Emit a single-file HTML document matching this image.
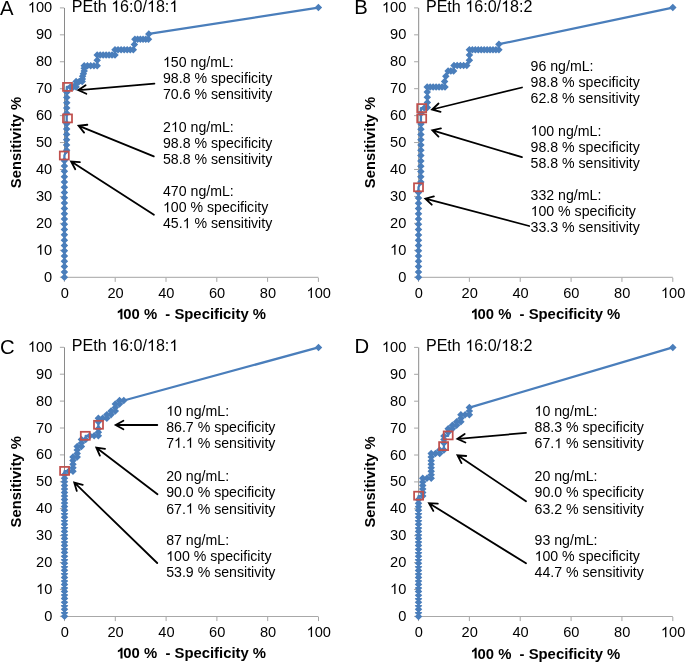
<!DOCTYPE html>
<html><head><meta charset="utf-8"><title>ROC curves</title>
<style>
html,body{margin:0;padding:0;background:#fff;}
body{width:685px;height:662px;overflow:hidden;font-family:"Liberation Sans",sans-serif;}
text{font-variant-ligatures:none;font-kerning:none;}
svg{display:block;will-change:transform;}
</style></head><body>
<svg width="685" height="662" viewBox="0 0 685 662">
<rect width="685" height="662" fill="#fff"/>
<defs><path id="oner" d="M763 0H583V1147Q518 1085 412.5 1023T223 930V1104Q374 1175 487 1276T647 1472H763V0Z"/><path id="oneb" d="M1025 0H744V1056Q590 912 381 843V1097Q491 1133 620 1233T797 1466H1025V0Z"/></defs>
<path d="M64.5 7.9V277.3" stroke="#8a8a8a" stroke-width="1" fill="none"/>
<path d="M59.9 277.2H64M59.9 250.27H64M59.9 223.34H64M59.9 196.41H64M59.9 169.48H64M59.9 142.55H64M59.9 115.62H64M59.9 88.69H64M59.9 61.76H64M59.9 34.83H64M59.9 7.9H64" stroke="#a6a6a6" stroke-width="1" fill="none"/>
<path d="M64.5 277.3H318.4" stroke="#a4a4a4" stroke-width="1" fill="none"/>
<path d="M64.4 277.8V281.9M115.2 277.8V281.9M166 277.8V281.9M216.8 277.8V281.9M267.6 277.8V281.9M318.4 277.8V281.9" stroke="#a6a6a6" stroke-width="1" fill="none"/>
<path d="M418.7 7.9V277.3" stroke="#8a8a8a" stroke-width="1" fill="none"/>
<path d="M414.1 277.2H418.2M414.1 250.27H418.2M414.1 223.34H418.2M414.1 196.41H418.2M414.1 169.48H418.2M414.1 142.55H418.2M414.1 115.62H418.2M414.1 88.69H418.2M414.1 61.76H418.2M414.1 34.83H418.2M414.1 7.9H418.2" stroke="#a6a6a6" stroke-width="1" fill="none"/>
<path d="M418.7 277.3H672.8" stroke="#a4a4a4" stroke-width="1" fill="none"/>
<path d="M418.5 277.8V281.9M469.36 277.8V281.9M520.22 277.8V281.9M571.08 277.8V281.9M621.94 277.8V281.9M672.8 277.8V281.9" stroke="#a6a6a6" stroke-width="1" fill="none"/>
<path d="M64.5 347.3V616.5" stroke="#8a8a8a" stroke-width="1" fill="none"/>
<path d="M59.9 616.3H64M59.9 589.4H64M59.9 562.5H64M59.9 535.6H64M59.9 508.7H64M59.9 481.8H64M59.9 454.9H64M59.9 428H64M59.9 401.1H64M59.9 374.2H64M59.9 347.3H64" stroke="#a6a6a6" stroke-width="1" fill="none"/>
<path d="M64.5 616.5H318.5" stroke="#a8a8a8" stroke-width="1" fill="none"/>
<path d="M64.5 617V621.1M115.3 617V621.1M166.1 617V621.1M216.9 617V621.1M267.7 617V621.1M318.5 617V621.1" stroke="#a6a6a6" stroke-width="1" fill="none"/>
<path d="M418.7 347.4V616.5" stroke="#8a8a8a" stroke-width="1" fill="none"/>
<path d="M414.1 616.4H418.2M414.1 589.5H418.2M414.1 562.6H418.2M414.1 535.7H418.2M414.1 508.8H418.2M414.1 481.9H418.2M414.1 455H418.2M414.1 428.1H418.2M414.1 401.2H418.2M414.1 374.3H418.2M414.1 347.4H418.2" stroke="#a6a6a6" stroke-width="1" fill="none"/>
<path d="M418.7 616.5H672.8" stroke="#a8a8a8" stroke-width="1" fill="none"/>
<path d="M418.5 617V621.1M469.36 617V621.1M520.22 617V621.1M571.08 617V621.1M621.94 617V621.1M672.8 617V621.1" stroke="#a6a6a6" stroke-width="1" fill="none"/>
<g font-family="Liberation Sans, sans-serif" fill="#000">
<text x="52.2" y="281.75" font-size="14.6" text-anchor="end">0</text>
<text x="52.2" y="254.82" font-size="14.6" text-anchor="end"> 0</text><use href="#oner" transform="translate(35.96 254.82) scale(0.00713 -0.00713)"/>
<text x="52.2" y="227.89" font-size="14.6" text-anchor="end">20</text>
<text x="52.2" y="200.96" font-size="14.6" text-anchor="end">30</text>
<text x="52.2" y="174.03" font-size="14.6" text-anchor="end">40</text>
<text x="52.2" y="147.1" font-size="14.6" text-anchor="end">50</text>
<text x="52.2" y="120.17" font-size="14.6" text-anchor="end">60</text>
<text x="52.2" y="93.24" font-size="14.6" text-anchor="end">70</text>
<text x="52.2" y="66.31" font-size="14.6" text-anchor="end">80</text>
<text x="52.2" y="39.38" font-size="14.6" text-anchor="end">90</text>
<text x="52.2" y="12.45" font-size="14.6" text-anchor="end"> 00</text><use href="#oner" transform="translate(27.84 12.45) scale(0.00713 -0.00713)"/>
<text x="64.7" y="298" font-size="14.6" text-anchor="middle">0</text>
<text x="115.5" y="298" font-size="14.6" text-anchor="middle">20</text>
<text x="166.3" y="298" font-size="14.6" text-anchor="middle">40</text>
<text x="217.1" y="298" font-size="14.6" text-anchor="middle">60</text>
<text x="267.9" y="298" font-size="14.6" text-anchor="middle">80</text>
<text x="318.7" y="298" font-size="14.6" text-anchor="middle"> 00</text><use href="#oner" transform="translate(306.52 298) scale(0.00713 -0.00713)"/>
<text x="190.5" y="319.3" font-size="14.85" text-anchor="middle" font-weight="bold" xml:space="preserve"> 00 %  - Specificity %</text><use href="#oneb" transform="translate(114.98 319.3) scale(0.00725 -0.00725)"/>
<text transform="translate(21 142.55) rotate(-90)" font-size="14.8" font-weight="bold" text-anchor="middle">Sensitivity %</text>
<text x="71.8" y="11.9" font-size="16.1">PEth  6:0/ 8: </text><use href="#oner" transform="translate(111.18 11.9) scale(0.00786 -0.00786)"/><use href="#oner" transform="translate(146.99 11.9) scale(0.00786 -0.00786)"/><use href="#oner" transform="translate(169.37 11.9) scale(0.00786 -0.00786)"/>
<text x="0" y="14.8" font-size="20.3">A</text>
<text x="163" y="67" font-size="14.15"> 50 ng/mL:</text><use href="#oner" transform="translate(163 67) scale(0.00691 -0.00691)"/>
<text x="163" y="82.95" font-size="14.15">98.8 % specificity</text>
<text x="163" y="98.9" font-size="14.15">70.6 % sensitivity</text>
<text x="163" y="131.8" font-size="14.15">2 0 ng/mL:</text><use href="#oner" transform="translate(170.87 131.8) scale(0.00691 -0.00691)"/>
<text x="163" y="147.75" font-size="14.15">98.8 % specificity</text>
<text x="163" y="163.7" font-size="14.15">58.8 % sensitivity</text>
<text x="163" y="196.2" font-size="14.15">470 ng/mL:</text>
<text x="163" y="212.2" font-size="14.15"> 00 % specificity</text><use href="#oner" transform="translate(163 212.2) scale(0.00691 -0.00691)"/>
<text x="163" y="228.2" font-size="14.15">45.  % sensitivity</text><use href="#oner" transform="translate(182.67 228.2) scale(0.00691 -0.00691)"/>
<text x="406.3" y="281.75" font-size="14.6" text-anchor="end">0</text>
<text x="406.3" y="254.82" font-size="14.6" text-anchor="end"> 0</text><use href="#oner" transform="translate(390.06 254.82) scale(0.00713 -0.00713)"/>
<text x="406.3" y="227.89" font-size="14.6" text-anchor="end">20</text>
<text x="406.3" y="200.96" font-size="14.6" text-anchor="end">30</text>
<text x="406.3" y="174.03" font-size="14.6" text-anchor="end">40</text>
<text x="406.3" y="147.1" font-size="14.6" text-anchor="end">50</text>
<text x="406.3" y="120.17" font-size="14.6" text-anchor="end">60</text>
<text x="406.3" y="93.24" font-size="14.6" text-anchor="end">70</text>
<text x="406.3" y="66.31" font-size="14.6" text-anchor="end">80</text>
<text x="406.3" y="39.38" font-size="14.6" text-anchor="end">90</text>
<text x="406.3" y="12.45" font-size="14.6" text-anchor="end"> 00</text><use href="#oner" transform="translate(381.94 12.45) scale(0.00713 -0.00713)"/>
<text x="418.8" y="298" font-size="14.6" text-anchor="middle">0</text>
<text x="469.66" y="298" font-size="14.6" text-anchor="middle">20</text>
<text x="520.52" y="298" font-size="14.6" text-anchor="middle">40</text>
<text x="571.38" y="298" font-size="14.6" text-anchor="middle">60</text>
<text x="622.24" y="298" font-size="14.6" text-anchor="middle">80</text>
<text x="673.1" y="298" font-size="14.6" text-anchor="middle"> 00</text><use href="#oner" transform="translate(660.92 298) scale(0.00713 -0.00713)"/>
<text x="544.75" y="319.3" font-size="14.85" text-anchor="middle" font-weight="bold" xml:space="preserve"> 00 %  - Specificity %</text><use href="#oneb" transform="translate(469.23 319.3) scale(0.00725 -0.00725)"/>
<text transform="translate(375.1 142.55) rotate(-90)" font-size="14.8" font-weight="bold" text-anchor="middle">Sensitivity %</text>
<text x="425.9" y="11.9" font-size="16.1">PEth  6:0/ 8:2</text><use href="#oner" transform="translate(465.28 11.9) scale(0.00786 -0.00786)"/><use href="#oner" transform="translate(501.09 11.9) scale(0.00786 -0.00786)"/>
<text x="354.3" y="14.4" font-size="20.3">B</text>
<text x="530.6" y="70.9" font-size="14.15">96 ng/mL:</text>
<text x="530.6" y="86.9" font-size="14.15">98.8 % specificity</text>
<text x="530.6" y="102.9" font-size="14.15">62.8 % sensitivity</text>
<text x="530.6" y="135.5" font-size="14.15"> 00 ng/mL:</text><use href="#oner" transform="translate(530.6 135.5) scale(0.00691 -0.00691)"/>
<text x="530.6" y="151.5" font-size="14.15">98.8 % specificity</text>
<text x="530.6" y="167.5" font-size="14.15">58.8 % sensitivity</text>
<text x="530.6" y="199.7" font-size="14.15">332 ng/mL:</text>
<text x="530.6" y="216.05" font-size="14.15"> 00 % specificity</text><use href="#oner" transform="translate(530.6 216.05) scale(0.00691 -0.00691)"/>
<text x="530.6" y="232.4" font-size="14.15">33.3 % sensitivity</text>
<text x="52.3" y="620.85" font-size="14.6" text-anchor="end">0</text>
<text x="52.3" y="593.95" font-size="14.6" text-anchor="end"> 0</text><use href="#oner" transform="translate(36.06 593.95) scale(0.00713 -0.00713)"/>
<text x="52.3" y="567.05" font-size="14.6" text-anchor="end">20</text>
<text x="52.3" y="540.15" font-size="14.6" text-anchor="end">30</text>
<text x="52.3" y="513.25" font-size="14.6" text-anchor="end">40</text>
<text x="52.3" y="486.35" font-size="14.6" text-anchor="end">50</text>
<text x="52.3" y="459.45" font-size="14.6" text-anchor="end">60</text>
<text x="52.3" y="432.55" font-size="14.6" text-anchor="end">70</text>
<text x="52.3" y="405.65" font-size="14.6" text-anchor="end">80</text>
<text x="52.3" y="378.75" font-size="14.6" text-anchor="end">90</text>
<text x="52.3" y="351.85" font-size="14.6" text-anchor="end"> 00</text><use href="#oner" transform="translate(27.94 351.85) scale(0.00713 -0.00713)"/>
<text x="64.8" y="637.1" font-size="14.6" text-anchor="middle">0</text>
<text x="115.6" y="637.1" font-size="14.6" text-anchor="middle">20</text>
<text x="166.4" y="637.1" font-size="14.6" text-anchor="middle">40</text>
<text x="217.2" y="637.1" font-size="14.6" text-anchor="middle">60</text>
<text x="268" y="637.1" font-size="14.6" text-anchor="middle">80</text>
<text x="318.8" y="637.1" font-size="14.6" text-anchor="middle"> 00</text><use href="#oner" transform="translate(306.62 637.1) scale(0.00713 -0.00713)"/>
<text x="190.6" y="658.4" font-size="14.85" text-anchor="middle" font-weight="bold" xml:space="preserve"> 00 %  - Specificity %</text><use href="#oneb" transform="translate(115.08 658.4) scale(0.00725 -0.00725)"/>
<text transform="translate(21 481.8) rotate(-90)" font-size="14.8" font-weight="bold" text-anchor="middle">Sensitivity %</text>
<text x="71.8" y="351" font-size="16.1">PEth  6:0/ 8: </text><use href="#oner" transform="translate(111.18 351) scale(0.00786 -0.00786)"/><use href="#oner" transform="translate(146.99 351) scale(0.00786 -0.00786)"/><use href="#oner" transform="translate(169.37 351) scale(0.00786 -0.00786)"/>
<text x="0.1" y="353.7" font-size="20.3">C</text>
<text x="166.2" y="415.8" font-size="14.15"> 0 ng/mL:</text><use href="#oner" transform="translate(166.2 415.8) scale(0.00691 -0.00691)"/>
<text x="166.2" y="431.75" font-size="14.15">86.7 % specificity</text>
<text x="166.2" y="447.7" font-size="14.15">7 .  % sensitivity</text><use href="#oner" transform="translate(174.07 447.7) scale(0.00691 -0.00691)"/><use href="#oner" transform="translate(185.87 447.7) scale(0.00691 -0.00691)"/>
<text x="166.2" y="480.9" font-size="14.15">20 ng/mL:</text>
<text x="166.2" y="497.2" font-size="14.15">90.0 % specificity</text>
<text x="166.2" y="513.5" font-size="14.15">67.  % sensitivity</text><use href="#oner" transform="translate(185.87 513.5) scale(0.00691 -0.00691)"/>
<text x="166.2" y="544.8" font-size="14.15">87 ng/mL:</text>
<text x="166.2" y="561.1" font-size="14.15"> 00 % specificity</text><use href="#oner" transform="translate(166.2 561.1) scale(0.00691 -0.00691)"/>
<text x="166.2" y="577.4" font-size="14.15">53.9 % sensitivity</text>
<text x="406.3" y="620.95" font-size="14.6" text-anchor="end">0</text>
<text x="406.3" y="594.05" font-size="14.6" text-anchor="end"> 0</text><use href="#oner" transform="translate(390.06 594.05) scale(0.00713 -0.00713)"/>
<text x="406.3" y="567.15" font-size="14.6" text-anchor="end">20</text>
<text x="406.3" y="540.25" font-size="14.6" text-anchor="end">30</text>
<text x="406.3" y="513.35" font-size="14.6" text-anchor="end">40</text>
<text x="406.3" y="486.45" font-size="14.6" text-anchor="end">50</text>
<text x="406.3" y="459.55" font-size="14.6" text-anchor="end">60</text>
<text x="406.3" y="432.65" font-size="14.6" text-anchor="end">70</text>
<text x="406.3" y="405.75" font-size="14.6" text-anchor="end">80</text>
<text x="406.3" y="378.85" font-size="14.6" text-anchor="end">90</text>
<text x="406.3" y="351.95" font-size="14.6" text-anchor="end"> 00</text><use href="#oner" transform="translate(381.94 351.95) scale(0.00713 -0.00713)"/>
<text x="418.8" y="637.2" font-size="14.6" text-anchor="middle">0</text>
<text x="469.66" y="637.2" font-size="14.6" text-anchor="middle">20</text>
<text x="520.52" y="637.2" font-size="14.6" text-anchor="middle">40</text>
<text x="571.38" y="637.2" font-size="14.6" text-anchor="middle">60</text>
<text x="622.24" y="637.2" font-size="14.6" text-anchor="middle">80</text>
<text x="673.1" y="637.2" font-size="14.6" text-anchor="middle"> 00</text><use href="#oner" transform="translate(660.92 637.2) scale(0.00713 -0.00713)"/>
<text x="544.75" y="658.5" font-size="14.85" text-anchor="middle" font-weight="bold" xml:space="preserve"> 00 %  - Specificity %</text><use href="#oneb" transform="translate(469.23 658.5) scale(0.00725 -0.00725)"/>
<text transform="translate(375.1 481.9) rotate(-90)" font-size="14.8" font-weight="bold" text-anchor="middle">Sensitivity %</text>
<text x="425.9" y="351.1" font-size="16.1">PEth  6:0/ 8:2</text><use href="#oner" transform="translate(465.28 351.1) scale(0.00786 -0.00786)"/><use href="#oner" transform="translate(501.09 351.1) scale(0.00786 -0.00786)"/>
<text x="354.4" y="353.1" font-size="20.3">D</text>
<text x="534.6" y="415.9" font-size="14.15"> 0 ng/mL:</text><use href="#oner" transform="translate(534.6 415.9) scale(0.00691 -0.00691)"/>
<text x="534.6" y="432.1" font-size="14.15">88.3 % specificity</text>
<text x="534.6" y="448.3" font-size="14.15">67.  % sensitivity</text><use href="#oner" transform="translate(554.27 448.3) scale(0.00691 -0.00691)"/>
<text x="534.6" y="480.9" font-size="14.15">20 ng/mL:</text>
<text x="534.6" y="497.25" font-size="14.15">90.0 % specificity</text>
<text x="534.6" y="513.6" font-size="14.15">63.2 % sensitivity</text>
<text x="534.6" y="544.8" font-size="14.15">93 ng/mL:</text>
<text x="534.6" y="561.1" font-size="14.15"> 00 % specificity</text><use href="#oner" transform="translate(534.6 561.1) scale(0.00691 -0.00691)"/>
<text x="534.6" y="577.4" font-size="14.15">44.7 % sensitivity</text>
</g>
<path d="M64.4 277.2L64.4 271.91L64.4 266.62L64.4 261.33L64.4 256.03L64.4 250.74L64.4 245.45L64.4 240.16L64.4 234.87L64.4 229.58L64.4 224.29L64.4 219L64.4 213.7L64.4 208.41L64.4 203.12L64.4 197.83L64.4 192.54L64.4 187.25L64.4 181.96L64.4 176.67L64.4 171.37L64.4 166.08L64.4 160.79L64.4 155.5L66.6 150.2L66.62 144.92L66.63 139.65L66.65 134.38L66.67 129.1L66.68 123.82L66.7 118.55L66.72 113.28L66.73 108L66.75 102.72L66.77 97.45L66.78 92.18L66.8 86.9L70.4 86.9L73.4 86.9L76.1 86.9L76.1 84.25L76.1 81.6L79.2 81.6L82.2 81.6L82.4 78.95L82.6 76.3L83.4 73.65L84.2 71L84.2 68.35L84.2 65.7L87.45 65.7L90.7 65.7L93.95 65.7L97.2 65.7L97.2 60.35L97.2 55L100.17 55L103.13 55L106.1 55L109.07 55L112.03 55L115 55L115 49.7L118.05 49.7L121.1 49.7L124.15 49.7L127.2 49.7L130.25 49.7L133.3 49.7L134.4 44.4L134.9 39.2L137.62 39.2L140.34 39.2L143.06 39.2L145.78 39.2L148.5 39.2L148.8 33.9L318.4 7.6" stroke="#4a7ebb" stroke-width="2.25" fill="none" stroke-linejoin="round"/>
<path d="M64.4 273.45L68.15 277.2L64.4 280.95L60.65 277.2ZM64.4 268.16L68.15 271.91L64.4 275.66L60.65 271.91ZM64.4 262.87L68.15 266.62L64.4 270.37L60.65 266.62ZM64.4 257.58L68.15 261.33L64.4 265.08L60.65 261.33ZM64.4 252.28L68.15 256.03L64.4 259.78L60.65 256.03ZM64.4 246.99L68.15 250.74L64.4 254.49L60.65 250.74ZM64.4 241.7L68.15 245.45L64.4 249.2L60.65 245.45ZM64.4 236.41L68.15 240.16L64.4 243.91L60.65 240.16ZM64.4 231.12L68.15 234.87L64.4 238.62L60.65 234.87ZM64.4 225.83L68.15 229.58L64.4 233.33L60.65 229.58ZM64.4 220.54L68.15 224.29L64.4 228.04L60.65 224.29ZM64.4 215.25L68.15 219L64.4 222.75L60.65 219ZM64.4 209.95L68.15 213.7L64.4 217.45L60.65 213.7ZM64.4 204.66L68.15 208.41L64.4 212.16L60.65 208.41ZM64.4 199.37L68.15 203.12L64.4 206.87L60.65 203.12ZM64.4 194.08L68.15 197.83L64.4 201.58L60.65 197.83ZM64.4 188.79L68.15 192.54L64.4 196.29L60.65 192.54ZM64.4 183.5L68.15 187.25L64.4 191L60.65 187.25ZM64.4 178.21L68.15 181.96L64.4 185.71L60.65 181.96ZM64.4 172.92L68.15 176.67L64.4 180.42L60.65 176.67ZM64.4 167.62L68.15 171.37L64.4 175.12L60.65 171.37ZM64.4 162.33L68.15 166.08L64.4 169.83L60.65 166.08ZM64.4 157.04L68.15 160.79L64.4 164.54L60.65 160.79ZM66.6 146.45L70.35 150.2L66.6 153.95L62.85 150.2ZM66.62 141.17L70.37 144.92L66.62 148.67L62.87 144.92ZM66.63 135.9L70.38 139.65L66.63 143.4L62.88 139.65ZM66.65 130.62L70.4 134.38L66.65 138.12L62.9 134.38ZM66.67 125.35L70.42 129.1L66.67 132.85L62.92 129.1ZM66.68 120.07L70.43 123.82L66.68 127.57L62.93 123.82ZM66.72 109.53L70.47 113.28L66.72 117.03L62.97 113.28ZM66.73 104.25L70.48 108L66.73 111.75L62.98 108ZM66.75 98.97L70.5 102.72L66.75 106.47L63 102.72ZM66.77 93.7L70.52 97.45L66.77 101.2L63.02 97.45ZM66.78 88.43L70.53 92.18L66.78 95.93L63.03 92.18ZM70.4 83.15L74.15 86.9L70.4 90.65L66.65 86.9ZM73.4 83.15L77.15 86.9L73.4 90.65L69.65 86.9ZM76.1 83.15L79.85 86.9L76.1 90.65L72.35 86.9ZM76.1 80.5L79.85 84.25L76.1 88L72.35 84.25ZM76.1 77.85L79.85 81.6L76.1 85.35L72.35 81.6ZM79.2 77.85L82.95 81.6L79.2 85.35L75.45 81.6ZM82.2 77.85L85.95 81.6L82.2 85.35L78.45 81.6ZM82.4 75.2L86.15 78.95L82.4 82.7L78.65 78.95ZM82.6 72.55L86.35 76.3L82.6 80.05L78.85 76.3ZM83.4 69.9L87.15 73.65L83.4 77.4L79.65 73.65ZM84.2 67.25L87.95 71L84.2 74.75L80.45 71ZM84.2 64.6L87.95 68.35L84.2 72.1L80.45 68.35ZM84.2 61.95L87.95 65.7L84.2 69.45L80.45 65.7ZM87.45 61.95L91.2 65.7L87.45 69.45L83.7 65.7ZM90.7 61.95L94.45 65.7L90.7 69.45L86.95 65.7ZM93.95 61.95L97.7 65.7L93.95 69.45L90.2 65.7ZM97.2 61.95L100.95 65.7L97.2 69.45L93.45 65.7ZM97.2 56.6L100.95 60.35L97.2 64.1L93.45 60.35ZM97.2 51.25L100.95 55L97.2 58.75L93.45 55ZM100.17 51.25L103.92 55L100.17 58.75L96.42 55ZM103.13 51.25L106.88 55L103.13 58.75L99.38 55ZM106.1 51.25L109.85 55L106.1 58.75L102.35 55ZM109.07 51.25L112.82 55L109.07 58.75L105.32 55ZM112.03 51.25L115.78 55L112.03 58.75L108.28 55ZM115 51.25L118.75 55L115 58.75L111.25 55ZM115 45.95L118.75 49.7L115 53.45L111.25 49.7ZM118.05 45.95L121.8 49.7L118.05 53.45L114.3 49.7ZM121.1 45.95L124.85 49.7L121.1 53.45L117.35 49.7ZM124.15 45.95L127.9 49.7L124.15 53.45L120.4 49.7ZM127.2 45.95L130.95 49.7L127.2 53.45L123.45 49.7ZM130.25 45.95L134 49.7L130.25 53.45L126.5 49.7ZM133.3 45.95L137.05 49.7L133.3 53.45L129.55 49.7ZM134.4 40.65L138.15 44.4L134.4 48.15L130.65 44.4ZM134.9 35.45L138.65 39.2L134.9 42.95L131.15 39.2ZM137.62 35.45L141.37 39.2L137.62 42.95L133.87 39.2ZM140.34 35.45L144.09 39.2L140.34 42.95L136.59 39.2ZM143.06 35.45L146.81 39.2L143.06 42.95L139.31 39.2ZM145.78 35.45L149.53 39.2L145.78 42.95L142.03 39.2ZM148.5 35.45L152.25 39.2L148.5 42.95L144.75 39.2ZM148.8 30.15L152.55 33.9L148.8 37.65L145.05 33.9ZM318.4 3.85L322.15 7.6L318.4 11.35L314.65 7.6Z" fill="#4a7ebb"/>
<path d="M418.5 277.2L418.5 271.91L418.5 266.62L418.5 261.34L418.5 256.05L418.5 250.76L418.5 245.47L418.5 240.18L418.5 234.89L418.5 229.61L418.5 224.32L418.5 219.03L418.5 213.74L418.5 208.45L418.5 203.16L418.5 197.88L418.5 192.59L418.5 187.3L420.8 182L420.81 176.72L420.83 171.44L420.84 166.16L420.86 160.89L420.87 155.61L420.89 150.33L420.9 145.05L420.91 139.77L420.93 134.49L420.94 129.21L420.96 123.94L420.97 118.66L420.99 113.38L421 108.1L424.3 108.1L427.4 107.6L427.35 102.42L427.3 97.25L427.25 92.08L427.2 86.9L430.17 86.9L433.13 86.9L436.1 86.9L439.07 86.9L442.03 86.9L445 86.9L444.6 81.6L445.8 76.3L448.1 71.1L450.85 71.1L453.6 71.1L454 65.6L457.2 65.6L460.4 65.6L463.6 65.6L466.8 65.6L469.4 60.3L469.4 55L469.4 49.7L472.35 49.7L475.3 49.7L478.25 49.7L481.2 49.7L484.15 49.7L487.1 49.7L490.05 49.7L493 49.7L495.95 49.7L498.9 49.7L498.9 44.2L672.8 7.6" stroke="#4a7ebb" stroke-width="2.25" fill="none" stroke-linejoin="round"/>
<path d="M418.5 273.45L422.25 277.2L418.5 280.95L414.75 277.2ZM418.5 268.16L422.25 271.91L418.5 275.66L414.75 271.91ZM418.5 262.87L422.25 266.62L418.5 270.37L414.75 266.62ZM418.5 257.59L422.25 261.34L418.5 265.09L414.75 261.34ZM418.5 252.3L422.25 256.05L418.5 259.8L414.75 256.05ZM418.5 247.01L422.25 250.76L418.5 254.51L414.75 250.76ZM418.5 241.72L422.25 245.47L418.5 249.22L414.75 245.47ZM418.5 236.43L422.25 240.18L418.5 243.93L414.75 240.18ZM418.5 231.14L422.25 234.89L418.5 238.64L414.75 234.89ZM418.5 225.86L422.25 229.61L418.5 233.36L414.75 229.61ZM418.5 220.57L422.25 224.32L418.5 228.07L414.75 224.32ZM418.5 215.28L422.25 219.03L418.5 222.78L414.75 219.03ZM418.5 209.99L422.25 213.74L418.5 217.49L414.75 213.74ZM418.5 204.7L422.25 208.45L418.5 212.2L414.75 208.45ZM418.5 199.41L422.25 203.16L418.5 206.91L414.75 203.16ZM418.5 194.13L422.25 197.88L418.5 201.63L414.75 197.88ZM418.5 188.84L422.25 192.59L418.5 196.34L414.75 192.59ZM420.8 178.25L424.55 182L420.8 185.75L417.05 182ZM420.81 172.97L424.56 176.72L420.81 180.47L417.06 176.72ZM420.83 167.69L424.58 171.44L420.83 175.19L417.08 171.44ZM420.84 162.41L424.59 166.16L420.84 169.91L417.09 166.16ZM420.86 157.14L424.61 160.89L420.86 164.64L417.11 160.89ZM420.87 151.86L424.62 155.61L420.87 159.36L417.12 155.61ZM420.89 146.58L424.64 150.33L420.89 154.08L417.14 150.33ZM420.9 141.3L424.65 145.05L420.9 148.8L417.15 145.05ZM420.91 136.02L424.66 139.77L420.91 143.52L417.16 139.77ZM420.93 130.74L424.68 134.49L420.93 138.24L417.18 134.49ZM420.94 125.46L424.69 129.21L420.94 132.96L417.19 129.21ZM420.96 120.19L424.71 123.94L420.96 127.69L417.21 123.94ZM420.99 109.63L424.74 113.38L420.99 117.13L417.24 113.38ZM424.3 104.35L428.05 108.1L424.3 111.85L420.55 108.1ZM427.4 103.85L431.15 107.6L427.4 111.35L423.65 107.6ZM427.35 98.67L431.1 102.42L427.35 106.17L423.6 102.42ZM427.3 93.5L431.05 97.25L427.3 101L423.55 97.25ZM427.25 88.33L431 92.08L427.25 95.83L423.5 92.08ZM427.2 83.15L430.95 86.9L427.2 90.65L423.45 86.9ZM430.17 83.15L433.92 86.9L430.17 90.65L426.42 86.9ZM433.13 83.15L436.88 86.9L433.13 90.65L429.38 86.9ZM436.1 83.15L439.85 86.9L436.1 90.65L432.35 86.9ZM439.07 83.15L442.82 86.9L439.07 90.65L435.32 86.9ZM442.03 83.15L445.78 86.9L442.03 90.65L438.28 86.9ZM445 83.15L448.75 86.9L445 90.65L441.25 86.9ZM444.6 77.85L448.35 81.6L444.6 85.35L440.85 81.6ZM445.8 72.55L449.55 76.3L445.8 80.05L442.05 76.3ZM448.1 67.35L451.85 71.1L448.1 74.85L444.35 71.1ZM450.85 67.35L454.6 71.1L450.85 74.85L447.1 71.1ZM453.6 67.35L457.35 71.1L453.6 74.85L449.85 71.1ZM454 61.85L457.75 65.6L454 69.35L450.25 65.6ZM457.2 61.85L460.95 65.6L457.2 69.35L453.45 65.6ZM460.4 61.85L464.15 65.6L460.4 69.35L456.65 65.6ZM463.6 61.85L467.35 65.6L463.6 69.35L459.85 65.6ZM466.8 61.85L470.55 65.6L466.8 69.35L463.05 65.6ZM469.4 56.55L473.15 60.3L469.4 64.05L465.65 60.3ZM469.4 51.25L473.15 55L469.4 58.75L465.65 55ZM469.4 45.95L473.15 49.7L469.4 53.45L465.65 49.7ZM472.35 45.95L476.1 49.7L472.35 53.45L468.6 49.7ZM475.3 45.95L479.05 49.7L475.3 53.45L471.55 49.7ZM478.25 45.95L482 49.7L478.25 53.45L474.5 49.7ZM481.2 45.95L484.95 49.7L481.2 53.45L477.45 49.7ZM484.15 45.95L487.9 49.7L484.15 53.45L480.4 49.7ZM487.1 45.95L490.85 49.7L487.1 53.45L483.35 49.7ZM490.05 45.95L493.8 49.7L490.05 53.45L486.3 49.7ZM493 45.95L496.75 49.7L493 53.45L489.25 49.7ZM495.95 45.95L499.7 49.7L495.95 53.45L492.2 49.7ZM498.9 45.95L502.65 49.7L498.9 53.45L495.15 49.7ZM498.9 40.45L502.65 44.2L498.9 47.95L495.15 44.2ZM672.8 3.85L676.55 7.6L672.8 11.35L669.05 7.6Z" fill="#4a7ebb"/>
<path d="M64.5 616.3L64.5 612.76L64.5 609.22L64.5 605.69L64.5 602.15L64.5 598.61L64.5 595.07L64.5 591.53L64.5 587.99L64.5 584.46L64.5 580.92L64.5 577.38L64.5 573.84L64.5 570.3L64.5 566.77L64.5 563.23L64.5 559.69L64.5 556.15L64.5 552.61L64.5 549.07L64.5 545.54L64.5 542L64.5 538.46L64.5 534.92L64.5 531.38L64.5 527.85L64.5 524.31L64.5 520.77L64.5 517.23L64.5 513.69L64.5 510.16L64.5 506.62L64.5 503.08L64.5 499.54L64.5 496L64.5 492.46L64.5 488.93L64.5 485.39L64.5 481.85L64.5 478.31L64.5 474.77L64.5 471.24L68.73 471.24L72.97 471.24L72.97 467.7L72.97 464.16L72.97 460.62L72.97 457.08L77.2 457.08L77.2 453.54L77.2 450.01L77.2 446.47L81.43 446.47L81.43 442.93L81.43 439.39L85.67 439.39L85.67 435.85L89.9 435.85L94.13 435.85L98.37 435.85L98.37 432.32L98.37 428.78L98.37 425.24L98.37 421.7L98.37 418.16L102.6 418.16L106.83 418.16L106.83 414.62L111.07 414.62L111.07 411.09L115.3 411.09L115.3 407.55L115.3 404.01L119.53 404.01L119.53 400.47L123.77 400.47L318.5 347.4" stroke="#4a7ebb" stroke-width="2.25" fill="none" stroke-linejoin="round"/>
<path d="M64.5 612.55L68.25 616.3L64.5 620.05L60.75 616.3ZM64.5 609.01L68.25 612.76L64.5 616.51L60.75 612.76ZM64.5 605.47L68.25 609.22L64.5 612.97L60.75 609.22ZM64.5 601.94L68.25 605.69L64.5 609.44L60.75 605.69ZM64.5 598.4L68.25 602.15L64.5 605.9L60.75 602.15ZM64.5 594.86L68.25 598.61L64.5 602.36L60.75 598.61ZM64.5 591.32L68.25 595.07L64.5 598.82L60.75 595.07ZM64.5 587.78L68.25 591.53L64.5 595.28L60.75 591.53ZM64.5 584.24L68.25 587.99L64.5 591.74L60.75 587.99ZM64.5 580.71L68.25 584.46L64.5 588.21L60.75 584.46ZM64.5 577.17L68.25 580.92L64.5 584.67L60.75 580.92ZM64.5 573.63L68.25 577.38L64.5 581.13L60.75 577.38ZM64.5 570.09L68.25 573.84L64.5 577.59L60.75 573.84ZM64.5 566.55L68.25 570.3L64.5 574.05L60.75 570.3ZM64.5 563.02L68.25 566.77L64.5 570.52L60.75 566.77ZM64.5 559.48L68.25 563.23L64.5 566.98L60.75 563.23ZM64.5 555.94L68.25 559.69L64.5 563.44L60.75 559.69ZM64.5 552.4L68.25 556.15L64.5 559.9L60.75 556.15ZM64.5 548.86L68.25 552.61L64.5 556.36L60.75 552.61ZM64.5 545.32L68.25 549.07L64.5 552.82L60.75 549.07ZM64.5 541.79L68.25 545.54L64.5 549.29L60.75 545.54ZM64.5 538.25L68.25 542L64.5 545.75L60.75 542ZM64.5 534.71L68.25 538.46L64.5 542.21L60.75 538.46ZM64.5 531.17L68.25 534.92L64.5 538.67L60.75 534.92ZM64.5 527.63L68.25 531.38L64.5 535.13L60.75 531.38ZM64.5 524.1L68.25 527.85L64.5 531.6L60.75 527.85ZM64.5 520.56L68.25 524.31L64.5 528.06L60.75 524.31ZM64.5 517.02L68.25 520.77L64.5 524.52L60.75 520.77ZM64.5 513.48L68.25 517.23L64.5 520.98L60.75 517.23ZM64.5 509.94L68.25 513.69L64.5 517.44L60.75 513.69ZM64.5 506.41L68.25 510.16L64.5 513.91L60.75 510.16ZM64.5 502.87L68.25 506.62L64.5 510.37L60.75 506.62ZM64.5 499.33L68.25 503.08L64.5 506.83L60.75 503.08ZM64.5 495.79L68.25 499.54L64.5 503.29L60.75 499.54ZM64.5 492.25L68.25 496L64.5 499.75L60.75 496ZM64.5 488.71L68.25 492.46L64.5 496.21L60.75 492.46ZM64.5 485.18L68.25 488.93L64.5 492.68L60.75 488.93ZM64.5 481.64L68.25 485.39L64.5 489.14L60.75 485.39ZM64.5 478.1L68.25 481.85L64.5 485.6L60.75 481.85ZM64.5 474.56L68.25 478.31L64.5 482.06L60.75 478.31ZM64.5 471.02L68.25 474.77L64.5 478.52L60.75 474.77ZM68.73 467.49L72.48 471.24L68.73 474.99L64.98 471.24ZM72.97 467.49L76.72 471.24L72.97 474.99L69.22 471.24ZM72.97 463.95L76.72 467.7L72.97 471.45L69.22 467.7ZM72.97 460.41L76.72 464.16L72.97 467.91L69.22 464.16ZM72.97 456.87L76.72 460.62L72.97 464.37L69.22 460.62ZM72.97 453.33L76.72 457.08L72.97 460.83L69.22 457.08ZM77.2 453.33L80.95 457.08L77.2 460.83L73.45 457.08ZM77.2 449.79L80.95 453.54L77.2 457.29L73.45 453.54ZM77.2 446.26L80.95 450.01L77.2 453.76L73.45 450.01ZM77.2 442.72L80.95 446.47L77.2 450.22L73.45 446.47ZM81.43 442.72L85.18 446.47L81.43 450.22L77.68 446.47ZM81.43 439.18L85.18 442.93L81.43 446.68L77.68 442.93ZM81.43 435.64L85.18 439.39L81.43 443.14L77.68 439.39ZM85.67 435.64L89.42 439.39L85.67 443.14L81.92 439.39ZM89.9 432.1L93.65 435.85L89.9 439.6L86.15 435.85ZM94.13 432.1L97.88 435.85L94.13 439.6L90.38 435.85ZM98.37 432.1L102.12 435.85L98.37 439.6L94.62 435.85ZM98.37 428.57L102.12 432.32L98.37 436.07L94.62 432.32ZM98.37 425.03L102.12 428.78L98.37 432.53L94.62 428.78ZM98.37 417.95L102.12 421.7L98.37 425.45L94.62 421.7ZM98.37 414.41L102.12 418.16L98.37 421.91L94.62 418.16ZM102.6 414.41L106.35 418.16L102.6 421.91L98.85 418.16ZM106.83 414.41L110.58 418.16L106.83 421.91L103.08 418.16ZM106.83 410.88L110.58 414.62L106.83 418.38L103.08 414.62ZM111.07 410.88L114.82 414.62L111.07 418.38L107.32 414.62ZM111.07 407.34L114.82 411.09L111.07 414.84L107.32 411.09ZM115.3 407.34L119.05 411.09L115.3 414.84L111.55 411.09ZM115.3 403.8L119.05 407.55L115.3 411.3L111.55 407.55ZM115.3 400.26L119.05 404.01L115.3 407.76L111.55 404.01ZM119.53 400.26L123.28 404.01L119.53 407.76L115.78 404.01ZM119.53 396.72L123.28 400.47L119.53 404.22L115.78 400.47ZM123.77 396.72L127.52 400.47L123.77 404.22L120.02 400.47ZM318.5 343.65L322.25 347.4L318.5 351.15L314.75 347.4Z" fill="#4a7ebb"/>
<path d="M418.5 616.4L418.5 612.86L418.5 609.32L418.5 605.78L418.5 602.24L418.5 598.7L418.5 595.16L418.5 591.62L418.5 588.08L418.5 584.54L418.5 581.01L418.5 577.47L418.5 573.93L418.5 570.39L418.5 566.85L418.5 563.31L418.5 559.77L418.5 556.23L418.5 552.69L418.5 549.15L418.5 545.61L418.5 542.07L418.5 538.53L418.5 534.99L418.5 531.45L418.5 527.91L418.5 524.37L418.5 520.83L418.5 517.29L418.5 513.76L418.5 510.22L418.5 506.68L418.5 503.14L418.5 499.6L418.5 496.06L422.74 496.06L422.74 492.52L422.74 488.98L422.74 485.44L422.74 481.9L422.74 478.36L426.98 478.36L431.21 478.36L431.21 474.82L431.21 471.28L431.21 467.74L431.21 464.2L431.21 460.66L431.21 457.12L431.21 453.58L435.45 453.58L439.69 453.58L439.69 450.04L443.93 450.04L443.93 446.51L443.93 442.97L443.93 439.43L443.93 435.89L448.17 435.89L448.17 432.35L448.17 428.81L452.41 428.81L452.41 425.27L456.64 425.27L456.64 421.73L460.88 421.73L460.88 418.19L460.88 414.65L465.12 414.65L469.36 414.65L469.36 411.11L469.36 407.57L672.8 347.4" stroke="#4a7ebb" stroke-width="2.25" fill="none" stroke-linejoin="round"/>
<path d="M418.5 612.65L422.25 616.4L418.5 620.15L414.75 616.4ZM418.5 609.11L422.25 612.86L418.5 616.61L414.75 612.86ZM418.5 605.57L422.25 609.32L418.5 613.07L414.75 609.32ZM418.5 602.03L422.25 605.78L418.5 609.53L414.75 605.78ZM418.5 598.49L422.25 602.24L418.5 605.99L414.75 602.24ZM418.5 594.95L422.25 598.7L418.5 602.45L414.75 598.7ZM418.5 591.41L422.25 595.16L418.5 598.91L414.75 595.16ZM418.5 587.87L422.25 591.62L418.5 595.37L414.75 591.62ZM418.5 584.33L422.25 588.08L418.5 591.83L414.75 588.08ZM418.5 580.79L422.25 584.54L418.5 588.29L414.75 584.54ZM418.5 577.26L422.25 581.01L418.5 584.76L414.75 581.01ZM418.5 573.72L422.25 577.47L418.5 581.22L414.75 577.47ZM418.5 570.18L422.25 573.93L418.5 577.68L414.75 573.93ZM418.5 566.64L422.25 570.39L418.5 574.14L414.75 570.39ZM418.5 563.1L422.25 566.85L418.5 570.6L414.75 566.85ZM418.5 559.56L422.25 563.31L418.5 567.06L414.75 563.31ZM418.5 556.02L422.25 559.77L418.5 563.52L414.75 559.77ZM418.5 552.48L422.25 556.23L418.5 559.98L414.75 556.23ZM418.5 548.94L422.25 552.69L418.5 556.44L414.75 552.69ZM418.5 545.4L422.25 549.15L418.5 552.9L414.75 549.15ZM418.5 541.86L422.25 545.61L418.5 549.36L414.75 545.61ZM418.5 538.32L422.25 542.07L418.5 545.82L414.75 542.07ZM418.5 534.78L422.25 538.53L418.5 542.28L414.75 538.53ZM418.5 531.24L422.25 534.99L418.5 538.74L414.75 534.99ZM418.5 527.7L422.25 531.45L418.5 535.2L414.75 531.45ZM418.5 524.16L422.25 527.91L418.5 531.66L414.75 527.91ZM418.5 520.62L422.25 524.37L418.5 528.12L414.75 524.37ZM418.5 517.08L422.25 520.83L418.5 524.58L414.75 520.83ZM418.5 513.54L422.25 517.29L418.5 521.04L414.75 517.29ZM418.5 510.01L422.25 513.76L418.5 517.51L414.75 513.76ZM418.5 506.47L422.25 510.22L418.5 513.97L414.75 510.22ZM418.5 502.93L422.25 506.68L418.5 510.43L414.75 506.68ZM418.5 499.39L422.25 503.14L418.5 506.89L414.75 503.14ZM418.5 495.85L422.25 499.6L418.5 503.35L414.75 499.6ZM422.74 492.31L426.49 496.06L422.74 499.81L418.99 496.06ZM422.74 488.77L426.49 492.52L422.74 496.27L418.99 492.52ZM422.74 485.23L426.49 488.98L422.74 492.73L418.99 488.98ZM422.74 481.69L426.49 485.44L422.74 489.19L418.99 485.44ZM422.74 478.15L426.49 481.9L422.74 485.65L418.99 481.9ZM422.74 474.61L426.49 478.36L422.74 482.11L418.99 478.36ZM426.98 474.61L430.73 478.36L426.98 482.11L423.23 478.36ZM431.21 474.61L434.96 478.36L431.21 482.11L427.46 478.36ZM431.21 471.07L434.96 474.82L431.21 478.57L427.46 474.82ZM431.21 467.53L434.96 471.28L431.21 475.03L427.46 471.28ZM431.21 463.99L434.96 467.74L431.21 471.49L427.46 467.74ZM431.21 460.45L434.96 464.2L431.21 467.95L427.46 464.2ZM431.21 456.91L434.96 460.66L431.21 464.41L427.46 460.66ZM431.21 453.37L434.96 457.12L431.21 460.87L427.46 457.12ZM431.21 449.83L434.96 453.58L431.21 457.33L427.46 453.58ZM435.45 449.83L439.2 453.58L435.45 457.33L431.7 453.58ZM439.69 449.83L443.44 453.58L439.69 457.33L435.94 453.58ZM439.69 446.29L443.44 450.04L439.69 453.79L435.94 450.04ZM443.93 446.29L447.68 450.04L443.93 453.79L440.18 450.04ZM443.93 439.22L447.68 442.97L443.93 446.72L440.18 442.97ZM443.93 435.68L447.68 439.43L443.93 443.18L440.18 439.43ZM443.93 432.14L447.68 435.89L443.93 439.64L440.18 435.89ZM448.17 428.6L451.92 432.35L448.17 436.1L444.42 432.35ZM448.17 425.06L451.92 428.81L448.17 432.56L444.42 428.81ZM452.41 425.06L456.16 428.81L452.41 432.56L448.66 428.81ZM452.41 421.52L456.16 425.27L452.41 429.02L448.66 425.27ZM456.64 421.52L460.39 425.27L456.64 429.02L452.89 425.27ZM456.64 417.98L460.39 421.73L456.64 425.48L452.89 421.73ZM460.88 417.98L464.63 421.73L460.88 425.48L457.13 421.73ZM460.88 414.44L464.63 418.19L460.88 421.94L457.13 418.19ZM460.88 410.9L464.63 414.65L460.88 418.4L457.13 414.65ZM465.12 410.9L468.87 414.65L465.12 418.4L461.37 414.65ZM469.36 410.9L473.11 414.65L469.36 418.4L465.61 414.65ZM469.36 407.36L473.11 411.11L469.36 414.86L465.61 411.11ZM469.36 403.82L473.11 407.57L469.36 411.32L465.61 407.57ZM672.8 343.65L676.55 347.4L672.8 351.15L669.05 347.4Z" fill="#4a7ebb"/>
<rect x="63" y="82.9" width="9" height="8" fill="none" stroke="#c0504d" stroke-width="1.75"/>
<rect x="63" y="114.4" width="9" height="8" fill="none" stroke="#c0504d" stroke-width="1.75"/>
<rect x="59.8" y="151.5" width="9" height="8" fill="none" stroke="#c0504d" stroke-width="1.75"/>
<rect x="417.2" y="104.1" width="9" height="8" fill="none" stroke="#c0504d" stroke-width="1.75"/>
<rect x="417.2" y="114.4" width="9" height="8" fill="none" stroke="#c0504d" stroke-width="1.75"/>
<rect x="414" y="183.3" width="9" height="8" fill="none" stroke="#c0504d" stroke-width="1.75"/>
<rect x="94" y="420.8" width="9" height="8" fill="none" stroke="#c0504d" stroke-width="1.75"/>
<rect x="80.8" y="431.8" width="9" height="8" fill="none" stroke="#c0504d" stroke-width="1.75"/>
<rect x="60.1" y="466.9" width="9" height="8" fill="none" stroke="#c0504d" stroke-width="1.75"/>
<rect x="443.7" y="431.4" width="9" height="8" fill="none" stroke="#c0504d" stroke-width="1.75"/>
<rect x="439.1" y="442.1" width="9" height="8" fill="none" stroke="#c0504d" stroke-width="1.75"/>
<rect x="414.1" y="491.7" width="9" height="8" fill="none" stroke="#c0504d" stroke-width="1.75"/>
<g stroke="#000" stroke-width="1.8" fill="none" stroke-linecap="round" stroke-linejoin="miter">
<path d="M154.4 83.6L79.29 90.1M86.33 93.77L78.3 90.19L85.6 85.27"/>
<path d="M153.8 156.4L79.53 126.17M84.12 132.64L78.6 125.79L87.34 124.74"/>
<path d="M153.9 214.8L71.93 162.04M75.26 169.26L71.09 161.5L79.87 162.08"/>
<path d="M522 87.5L433.03 109.25M440.55 111.81L432.06 109.49L438.53 103.52"/>
<path d="M521.9 157.2L433.3 130.56M438.49 136.58L432.34 130.27L440.94 128.4"/>
<path d="M529.2 226L426.32 198.89M431.71 204.72L425.36 198.63L433.89 196.47"/>
<path d="M157.3 425L116.7 425M123.4 429.27L115.7 425L123.4 420.73"/>
<path d="M157.5 494.2L97.13 448.19M99.87 455.65L96.33 447.59L105.04 448.86"/>
<path d="M157.2 563L74.95 483.2M76.79 490.93L74.23 482.51L82.73 484.8"/>
<path d="M526 432.9L458.39 438.8M465.43 442.47L457.4 438.89L464.69 433.97"/>
<path d="M526 501.3L458.31 455.78M461.49 463.06L457.48 455.23L466.25 455.98"/>
<path d="M526 563.3L429.85 503.71M433.3 510.87L429 503.18L437.79 503.61"/>
</g>
</svg>
</body></html>
